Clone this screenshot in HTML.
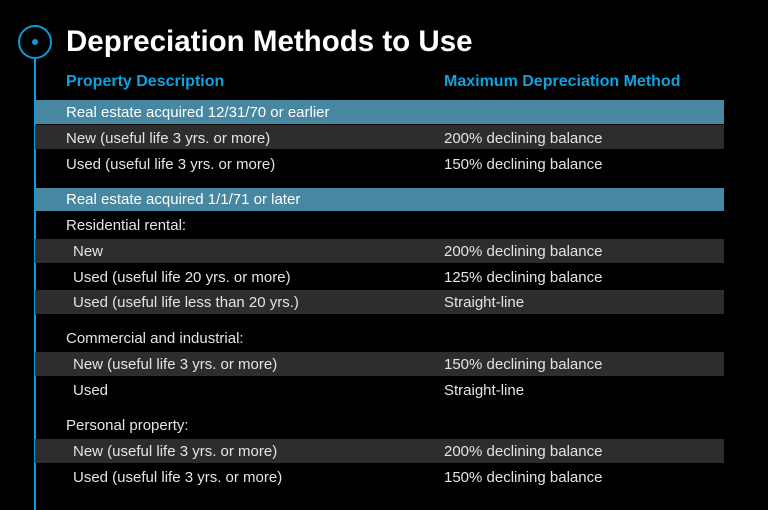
<!DOCTYPE html>
<html><head><meta charset="utf-8"><style>
body{margin:0;background:#000;width:768px;height:510px;overflow:hidden;position:relative;font-family:"Liberation Sans",sans-serif}
.a{position:absolute}
.t{position:absolute;font-size:15px;color:#e4e4e4;line-height:24px;white-space:nowrap;margin-top:1px}
.band{position:absolute;left:35px;width:689px;height:24px;background:#4787a2}
.dark{position:absolute;left:35px;width:689px;height:24px;background:#2d2d2d}
.h{position:absolute;color:#0da2e0;font-weight:bold;font-size:16px;line-height:20px}
</style></head><body>
<div class="a" style="left:34px;top:58px;width:2px;height:452px;background:#0a9bd8"></div>
<div class="a" style="left:18px;top:25px;width:30px;height:30px;border:2px solid #0a9bd8;border-radius:50%"></div>
<div class="a" style="left:32px;top:39px;width:6px;height:6px;background:#0a9bd8;border-radius:50%"></div>
<div class="a" style="left:66px;top:24px;font-size:29.5px;font-weight:bold;color:#fff;line-height:36px">Depreciation Methods to Use</div>
<div class="h" style="left:66px;top:72px">Property Description</div>
<div class="h" style="left:444px;top:72px">Maximum Depreciation Method</div>

<div class="band" style="top:100px"></div>
<div class="t" style="left:66px;top:100px;color:#fff">Real estate acquired 12/31/70 or earlier</div>
<div class="dark" style="top:125px"></div>
<div class="t" style="left:66px;top:126px">New (useful life 3 yrs. or more)</div>
<div class="t" style="left:444px;top:126px">200% declining balance</div>
<div class="t" style="left:66px;top:152px">Used (useful life 3 yrs. or more)</div>
<div class="t" style="left:444px;top:152px">150% declining balance</div>

<div class="band" style="top:188px;height:23px"></div>
<div class="t" style="left:66px;top:187px;color:#fff">Real estate acquired 1/1/71 or later</div>
<div class="t" style="left:66px;top:213px">Residential rental:</div>
<div class="dark" style="top:239px"></div>
<div class="t" style="left:73px;top:239px">New</div>
<div class="t" style="left:444px;top:239px">200% declining balance</div>
<div class="t" style="left:73px;top:265px">Used (useful life 20 yrs. or more)</div>
<div class="t" style="left:444px;top:265px">125% declining balance</div>
<div class="dark" style="top:290px"></div>
<div class="t" style="left:73px;top:290px">Used (useful life less than 20 yrs.)</div>
<div class="t" style="left:444px;top:290px">Straight-line</div>

<div class="t" style="left:66px;top:326px">Commercial and industrial:</div>
<div class="dark" style="top:352px"></div>
<div class="t" style="left:73px;top:352px">New (useful life 3 yrs. or more)</div>
<div class="t" style="left:444px;top:352px">150% declining balance</div>
<div class="t" style="left:73px;top:378px">Used</div>
<div class="t" style="left:444px;top:378px">Straight-line</div>

<div class="t" style="left:66px;top:413px">Personal property:</div>
<div class="dark" style="top:439px"></div>
<div class="t" style="left:73px;top:439px">New (useful life 3 yrs. or more)</div>
<div class="t" style="left:444px;top:439px">200% declining balance</div>
<div class="t" style="left:73px;top:465px">Used (useful life 3 yrs. or more)</div>
<div class="t" style="left:444px;top:465px">150% declining balance</div>
</body></html>
